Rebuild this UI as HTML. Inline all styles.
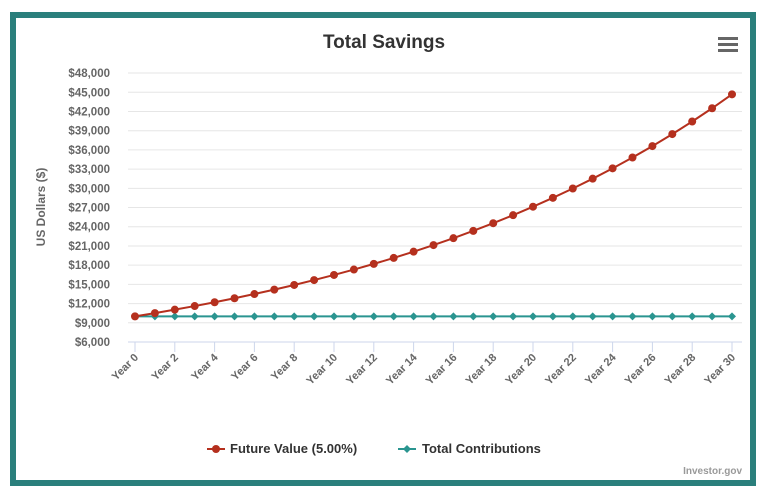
<!DOCTYPE html>
<html><head><meta charset="utf-8"><style>
body{margin:0;background:#fff;width:768px;height:495px;overflow:hidden}
svg text{font-family:"Liberation Sans",sans-serif}
</style></head><body>
<svg id="s" width="768" height="495" xmlns="http://www.w3.org/2000/svg">
<rect x="0" y="0" width="768" height="495" fill="#fff"/>
<rect x="13" y="15" width="740" height="468" fill="#fff" stroke="#2a7f7c" stroke-width="6"/>
<text x="384" y="48" text-anchor="middle" font-size="19" font-weight="bold" fill="#333">Total Savings</text>
<g fill="#666"><rect x="718" y="37" width="20" height="3"/><rect x="718" y="43" width="20" height="3"/><rect x="718" y="49" width="20" height="3"/></g>
<text transform="translate(45,207) rotate(-90)" text-anchor="middle" font-size="12" font-weight="bold" fill="#666">US Dollars ($)</text>
<g id="g"></g>
<g transform="translate(0,0)">
<line x1="207" y1="449" x2="225" y2="449" stroke="#b5301e" stroke-width="2"/><circle cx="216" cy="449" r="4" fill="#b5301e"/>
<text x="230" y="453" font-size="13" font-weight="bold" fill="#333">Future Value (5.00%)</text>
<line x1="398" y1="449" x2="416" y2="449" stroke="#2a9590" stroke-width="2"/><path d="M407 445 L411 449 L407 453 L403 449Z" fill="#2a9590"/>
<text x="422" y="453" font-size="13" font-weight="bold" fill="#333">Total Contributions</text>
</g>
<text x="742" y="474" text-anchor="end" font-size="10" font-weight="bold" fill="#999">Investor.gov</text>
</svg>
<script>
var g=document.getElementById('g'),h='';
function Y(v){return 342-(v-6000)/3000*19.21}
function X(i){return 135+i*19.9}
for(var k=0;k<=14;k++){var v=6000+k*3000,y=Y(v);
h+='<line x1="128" x2="742" y1="'+y+'" y2="'+y+'" stroke="#e6e6e6"/>';
h+='<text x="110" y="'+(y+4)+'" text-anchor="end" font-size="11.5" font-weight="bold" fill="#666">$'+v.toLocaleString('en-US')+'</text>';}
h+='<line x1="128" x2="742" y1="342" y2="342" stroke="#ccd6eb"/>';
for(var i=0;i<=30;i+=2){var x=X(i);h+='<line x1="'+x+'" x2="'+x+'" y1="342" y2="352" stroke="#ccd6eb"/>';
h+='<text transform="translate('+(x+4)+',358) rotate(-45)" text-anchor="end" font-size="11" font-weight="bold" fill="#666">Year '+i+'</text>';}
var p='',q='',c='';
for(var i=0;i<=30;i++){var x=X(i),yf=Y(10000*Math.pow(1+0.05/12,12*i)),yc=Y(10000);
p+=(i?'L':'M')+x+' '+yf;q+=(i?'L':'M')+x+' '+yc;
c+='<path d="M'+x+' '+(yc-4)+'L'+(x+4)+' '+yc+'L'+x+' '+(yc+4)+'L'+(x-4)+' '+yc+'Z" fill="#2a9590"/>';
c+='<circle cx="'+x+'" cy="'+yf+'" r="4" fill="#b5301e"/>';}
h+='<path d="'+q+'" fill="none" stroke="#2a9590" stroke-width="2"/><path d="'+p+'" fill="none" stroke="#b5301e" stroke-width="2"/>'+c;
g.innerHTML=h;
</script>
</body></html>
